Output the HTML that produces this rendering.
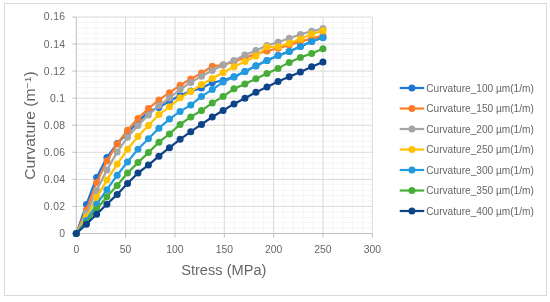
<!DOCTYPE html><html><head><meta charset="utf-8"><style>
html,body{margin:0;padding:0;background:#fff;width:550px;height:302px;overflow:hidden}
svg{display:block;filter:blur(0.3px)}
text{font-family:"Liberation Sans",Arial,sans-serif;fill:#666666}
</style></head><body>
<svg width="550" height="302" viewBox="0 0 550 302">
<rect x="0" y="0" width="550" height="302" fill="#fff"/>
<rect x="4.5" y="3.5" width="542" height="292" fill="none" stroke="#d9d9d9" stroke-width="1"/>
<path d="M86.17 17.00V233.50M96.03 17.00V233.50M105.90 17.00V233.50M115.77 17.00V233.50M135.50 17.00V233.50M145.37 17.00V233.50M155.23 17.00V233.50M165.10 17.00V233.50M184.83 17.00V233.50M194.70 17.00V233.50M204.57 17.00V233.50M214.43 17.00V233.50M234.17 17.00V233.50M244.03 17.00V233.50M253.90 17.00V233.50M263.77 17.00V233.50M283.50 17.00V233.50M293.37 17.00V233.50M303.23 17.00V233.50M313.10 17.00V233.50M332.83 17.00V233.50M342.70 17.00V233.50M352.57 17.00V233.50M362.43 17.00V233.50M76.30 228.09H372.30M76.30 222.68H372.30M76.30 217.26H372.30M76.30 211.85H372.30M76.30 201.03H372.30M76.30 195.61H372.30M76.30 190.20H372.30M76.30 184.79H372.30M76.30 173.96H372.30M76.30 168.55H372.30M76.30 163.14H372.30M76.30 157.72H372.30M76.30 146.90H372.30M76.30 141.49H372.30M76.30 136.07H372.30M76.30 130.66H372.30M76.30 119.84H372.30M76.30 114.43H372.30M76.30 109.01H372.30M76.30 103.60H372.30M76.30 92.78H372.30M76.30 87.36H372.30M76.30 81.95H372.30M76.30 76.54H372.30M76.30 65.71H372.30M76.30 60.30H372.30M76.30 54.89H372.30M76.30 49.47H372.30M76.30 38.65H372.30M76.30 33.24H372.30M76.30 27.82H372.30M76.30 22.41H372.30" stroke="#f4f4f4" stroke-width="1" fill="none"/>
<path d="M125.63 17.00V233.50M174.97 17.00V233.50M224.30 17.00V233.50M273.63 17.00V233.50M322.97 17.00V233.50M372.30 17.00V233.50M76.30 206.44H372.30M76.30 179.38H372.30M76.30 152.31H372.30M76.30 125.25H372.30M76.30 98.19H372.30M76.30 71.12H372.30M76.30 44.06H372.30M76.30 17.00H372.30" stroke="#d9d9d9" stroke-width="1" fill="none"/>
<path d="M76.30 17.00V233.50M76.30 233.50H372.30M76.30 233.50V237.50M125.63 233.50V237.50M174.97 233.50V237.50M224.30 233.50V237.50M273.63 233.50V237.50M322.97 233.50V237.50M372.30 233.50V237.50M72.30 233.50H76.30M72.30 206.44H76.30M72.30 179.38H76.30M72.30 152.31H76.30M72.30 125.25H76.30M72.30 98.19H76.30M72.30 71.12H76.30M72.30 44.06H76.30M72.30 17.00H76.30" stroke="#bfbfbf" stroke-width="1" fill="none"/>
<text x="76.30" y="252.6" font-size="10.4" text-anchor="middle">0</text>
<text x="125.63" y="252.6" font-size="10.4" text-anchor="middle">50</text>
<text x="174.97" y="252.6" font-size="10.4" text-anchor="middle">100</text>
<text x="224.30" y="252.6" font-size="10.4" text-anchor="middle">150</text>
<text x="273.63" y="252.6" font-size="10.4" text-anchor="middle">200</text>
<text x="322.97" y="252.6" font-size="10.4" text-anchor="middle">250</text>
<text x="372.30" y="252.6" font-size="10.4" text-anchor="middle">300</text>
<text x="65.4" y="236.95" font-size="10.4" letter-spacing="0.35" text-anchor="end">0</text>
<text x="65.4" y="209.89" font-size="10.4" letter-spacing="0.35" text-anchor="end">0.02</text>
<text x="65.4" y="182.82" font-size="10.4" letter-spacing="0.35" text-anchor="end">0.04</text>
<text x="65.4" y="155.76" font-size="10.4" letter-spacing="0.35" text-anchor="end">0.06</text>
<text x="65.4" y="128.70" font-size="10.4" letter-spacing="0.35" text-anchor="end">0.08</text>
<text x="65.4" y="101.64" font-size="10.4" letter-spacing="0.35" text-anchor="end">0.1</text>
<text x="65.4" y="74.58" font-size="10.4" letter-spacing="0.35" text-anchor="end">0.12</text>
<text x="65.4" y="47.51" font-size="10.4" letter-spacing="0.35" text-anchor="end">0.14</text>
<text x="65.4" y="20.45" font-size="10.4" letter-spacing="0.35" text-anchor="end">0.16</text>
<text transform="translate(223.8 275.2) scale(0.975 1)" font-size="15" text-anchor="middle">Stress (MPa)</text>
<text transform="translate(35.2 125.5) rotate(-90) scale(1.065 1)" font-size="14.7" text-anchor="middle">Curvature (m<tspan font-size="9.8" dy="-4.6">−1</tspan><tspan dy="4.6">)</tspan></text>
<polyline points="76.30,233.50 86.44,204.50 96.63,177.50 106.88,157.50 117.18,143.60 127.53,133.10 137.94,122.10 148.40,111.60 158.91,107.60 169.47,101.10 180.09,95.60 190.76,91.10 201.49,88.10 212.27,82.80 223.10,80.40 233.98,76.90 244.92,71.50 255.91,66.00 266.95,60.50 278.05,55.60 289.20,51.50 300.40,46.50 311.66,41.50 322.97,37.40" fill="none" stroke="#1D74D4" stroke-width="2.2" stroke-linejoin="round"/>
<g fill="#1D74D4"><circle cx="76.30" cy="233.50" r="3.5"/><circle cx="86.44" cy="204.50" r="3.5"/><circle cx="96.63" cy="177.50" r="3.5"/><circle cx="106.88" cy="157.50" r="3.5"/><circle cx="117.18" cy="143.60" r="3.5"/><circle cx="127.53" cy="133.10" r="3.5"/><circle cx="137.94" cy="122.10" r="3.5"/><circle cx="148.40" cy="111.60" r="3.5"/><circle cx="158.91" cy="107.60" r="3.5"/><circle cx="169.47" cy="101.10" r="3.5"/><circle cx="180.09" cy="95.60" r="3.5"/><circle cx="190.76" cy="91.10" r="3.5"/><circle cx="201.49" cy="88.10" r="3.5"/><circle cx="212.27" cy="82.80" r="3.5"/><circle cx="223.10" cy="80.40" r="3.5"/><circle cx="233.98" cy="76.90" r="3.5"/><circle cx="244.92" cy="71.50" r="3.5"/><circle cx="255.91" cy="66.00" r="3.5"/><circle cx="266.95" cy="60.50" r="3.5"/><circle cx="278.05" cy="55.60" r="3.5"/><circle cx="289.20" cy="51.50" r="3.5"/><circle cx="300.40" cy="46.50" r="3.5"/><circle cx="311.66" cy="41.50" r="3.5"/><circle cx="322.97" cy="37.40" r="3.5"/></g>
<polyline points="76.30,233.50 86.44,209.80 96.63,182.40 106.88,161.00 117.18,143.90 127.53,130.20 137.94,118.60 148.40,108.50 158.91,99.90 169.47,92.70 180.09,85.30 190.76,79.00 201.49,73.10 212.27,66.30 223.10,65.00 233.98,61.60 244.92,57.60 255.91,54.10 266.95,51.00 278.05,48.20 289.20,45.10 300.40,41.60 311.66,38.60 322.97,35.60" fill="none" stroke="#FD7C2A" stroke-width="2.2" stroke-linejoin="round"/>
<g fill="#FD7C2A"><circle cx="76.30" cy="233.50" r="3.5"/><circle cx="86.44" cy="209.80" r="3.5"/><circle cx="96.63" cy="182.40" r="3.5"/><circle cx="106.88" cy="161.00" r="3.5"/><circle cx="117.18" cy="143.90" r="3.5"/><circle cx="127.53" cy="130.20" r="3.5"/><circle cx="137.94" cy="118.60" r="3.5"/><circle cx="148.40" cy="108.50" r="3.5"/><circle cx="158.91" cy="99.90" r="3.5"/><circle cx="169.47" cy="92.70" r="3.5"/><circle cx="180.09" cy="85.30" r="3.5"/><circle cx="190.76" cy="79.00" r="3.5"/><circle cx="201.49" cy="73.10" r="3.5"/><circle cx="212.27" cy="66.30" r="3.5"/><circle cx="223.10" cy="65.00" r="3.5"/><circle cx="233.98" cy="61.60" r="3.5"/><circle cx="244.92" cy="57.60" r="3.5"/><circle cx="255.91" cy="54.10" r="3.5"/><circle cx="266.95" cy="51.00" r="3.5"/><circle cx="278.05" cy="48.20" r="3.5"/><circle cx="289.20" cy="45.10" r="3.5"/><circle cx="300.40" cy="41.60" r="3.5"/><circle cx="311.66" cy="38.60" r="3.5"/><circle cx="322.97" cy="35.60" r="3.5"/></g>
<polyline points="76.30,233.50 86.44,213.20 96.63,190.50 106.88,170.10 117.18,152.10 127.53,137.20 137.94,125.50 148.40,114.90 158.91,105.60 169.47,98.00 180.09,89.50 190.76,82.40 201.49,76.20 212.27,70.60 223.10,65.00 233.98,60.40 244.92,55.10 255.91,50.40 266.95,45.60 278.05,42.30 289.20,38.20 300.40,34.40 311.66,31.20 322.97,28.50" fill="none" stroke="#A5A5A5" stroke-width="2.2" stroke-linejoin="round"/>
<g fill="#A5A5A5"><circle cx="76.30" cy="233.50" r="3.5"/><circle cx="86.44" cy="213.20" r="3.5"/><circle cx="96.63" cy="190.50" r="3.5"/><circle cx="106.88" cy="170.10" r="3.5"/><circle cx="117.18" cy="152.10" r="3.5"/><circle cx="127.53" cy="137.20" r="3.5"/><circle cx="137.94" cy="125.50" r="3.5"/><circle cx="148.40" cy="114.90" r="3.5"/><circle cx="158.91" cy="105.60" r="3.5"/><circle cx="169.47" cy="98.00" r="3.5"/><circle cx="180.09" cy="89.50" r="3.5"/><circle cx="190.76" cy="82.40" r="3.5"/><circle cx="201.49" cy="76.20" r="3.5"/><circle cx="212.27" cy="70.60" r="3.5"/><circle cx="223.10" cy="65.00" r="3.5"/><circle cx="233.98" cy="60.40" r="3.5"/><circle cx="244.92" cy="55.10" r="3.5"/><circle cx="255.91" cy="50.40" r="3.5"/><circle cx="266.95" cy="45.60" r="3.5"/><circle cx="278.05" cy="42.30" r="3.5"/><circle cx="289.20" cy="38.20" r="3.5"/><circle cx="300.40" cy="34.40" r="3.5"/><circle cx="311.66" cy="31.20" r="3.5"/><circle cx="322.97" cy="28.50" r="3.5"/></g>
<polyline points="76.30,233.50 86.44,216.70 96.63,197.60 106.88,180.10 117.18,164.10 127.53,149.30 137.94,136.40 148.40,125.40 158.91,114.60 169.47,106.80 180.09,97.80 190.76,91.50 201.49,84.60 212.27,78.50 223.10,72.50 233.98,66.70 244.92,61.60 255.91,56.10 266.95,47.00 278.05,46.80 289.20,43.20 300.40,38.90 311.66,34.10 322.97,30.70" fill="none" stroke="#FFC200" stroke-width="2.2" stroke-linejoin="round"/>
<g fill="#FFC200"><circle cx="76.30" cy="233.50" r="3.5"/><circle cx="86.44" cy="216.70" r="3.5"/><circle cx="96.63" cy="197.60" r="3.5"/><circle cx="106.88" cy="180.10" r="3.5"/><circle cx="117.18" cy="164.10" r="3.5"/><circle cx="127.53" cy="149.30" r="3.5"/><circle cx="137.94" cy="136.40" r="3.5"/><circle cx="148.40" cy="125.40" r="3.5"/><circle cx="158.91" cy="114.60" r="3.5"/><circle cx="169.47" cy="106.80" r="3.5"/><circle cx="180.09" cy="97.80" r="3.5"/><circle cx="190.76" cy="91.50" r="3.5"/><circle cx="201.49" cy="84.60" r="3.5"/><circle cx="212.27" cy="78.50" r="3.5"/><circle cx="223.10" cy="72.50" r="3.5"/><circle cx="233.98" cy="66.70" r="3.5"/><circle cx="244.92" cy="61.60" r="3.5"/><circle cx="255.91" cy="56.10" r="3.5"/><circle cx="266.95" cy="47.00" r="3.5"/><circle cx="278.05" cy="46.80" r="3.5"/><circle cx="289.20" cy="43.20" r="3.5"/><circle cx="300.40" cy="38.90" r="3.5"/><circle cx="311.66" cy="34.10" r="3.5"/><circle cx="322.97" cy="30.70" r="3.5"/></g>
<polyline points="76.30,233.50 86.44,220.40 96.63,204.30 106.88,189.70 117.18,175.20 127.53,161.90 137.94,149.20 148.40,138.80 158.91,128.20 169.47,119.10 180.09,111.40 190.76,105.10 201.49,96.40 212.27,89.60 223.10,82.10 233.98,76.80 244.92,71.40 255.91,65.80 266.95,60.50 278.05,55.60 289.20,51.50 300.40,46.50 311.66,41.50 322.97,37.40" fill="none" stroke="#219ADE" stroke-width="2.2" stroke-linejoin="round"/>
<g fill="#219ADE"><circle cx="76.30" cy="233.50" r="3.5"/><circle cx="86.44" cy="220.40" r="3.5"/><circle cx="96.63" cy="204.30" r="3.5"/><circle cx="106.88" cy="189.70" r="3.5"/><circle cx="117.18" cy="175.20" r="3.5"/><circle cx="127.53" cy="161.90" r="3.5"/><circle cx="137.94" cy="149.20" r="3.5"/><circle cx="148.40" cy="138.80" r="3.5"/><circle cx="158.91" cy="128.20" r="3.5"/><circle cx="169.47" cy="119.10" r="3.5"/><circle cx="180.09" cy="111.40" r="3.5"/><circle cx="190.76" cy="105.10" r="3.5"/><circle cx="201.49" cy="96.40" r="3.5"/><circle cx="212.27" cy="89.60" r="3.5"/><circle cx="223.10" cy="82.10" r="3.5"/><circle cx="233.98" cy="76.80" r="3.5"/><circle cx="244.92" cy="71.40" r="3.5"/><circle cx="255.91" cy="65.80" r="3.5"/><circle cx="266.95" cy="60.50" r="3.5"/><circle cx="278.05" cy="55.60" r="3.5"/><circle cx="289.20" cy="51.50" r="3.5"/><circle cx="300.40" cy="46.50" r="3.5"/><circle cx="311.66" cy="41.50" r="3.5"/><circle cx="322.97" cy="37.40" r="3.5"/></g>
<polyline points="76.30,233.50 86.44,223.10 96.63,209.20 106.88,196.80 117.18,185.50 127.53,173.00 137.94,162.60 148.40,152.60 158.91,142.20 169.47,133.90 180.09,124.40 190.76,117.00 201.49,110.50 212.27,103.10 223.10,96.50 233.98,88.80 244.92,84.00 255.91,78.80 266.95,73.50 278.05,68.40 289.20,62.40 300.40,57.40 311.66,53.50 322.97,48.70" fill="none" stroke="#47AD38" stroke-width="2.2" stroke-linejoin="round"/>
<g fill="#47AD38"><circle cx="76.30" cy="233.50" r="3.5"/><circle cx="86.44" cy="223.10" r="3.5"/><circle cx="96.63" cy="209.20" r="3.5"/><circle cx="106.88" cy="196.80" r="3.5"/><circle cx="117.18" cy="185.50" r="3.5"/><circle cx="127.53" cy="173.00" r="3.5"/><circle cx="137.94" cy="162.60" r="3.5"/><circle cx="148.40" cy="152.60" r="3.5"/><circle cx="158.91" cy="142.20" r="3.5"/><circle cx="169.47" cy="133.90" r="3.5"/><circle cx="180.09" cy="124.40" r="3.5"/><circle cx="190.76" cy="117.00" r="3.5"/><circle cx="201.49" cy="110.50" r="3.5"/><circle cx="212.27" cy="103.10" r="3.5"/><circle cx="223.10" cy="96.50" r="3.5"/><circle cx="233.98" cy="88.80" r="3.5"/><circle cx="244.92" cy="84.00" r="3.5"/><circle cx="255.91" cy="78.80" r="3.5"/><circle cx="266.95" cy="73.50" r="3.5"/><circle cx="278.05" cy="68.40" r="3.5"/><circle cx="289.20" cy="62.40" r="3.5"/><circle cx="300.40" cy="57.40" r="3.5"/><circle cx="311.66" cy="53.50" r="3.5"/><circle cx="322.97" cy="48.70" r="3.5"/></g>
<polyline points="76.30,233.50 86.44,224.20 96.63,214.20 106.88,204.20 117.18,194.40 127.53,183.60 137.94,173.00 148.40,165.10 158.91,156.20 169.47,147.70 180.09,139.30 190.76,131.70 201.49,124.40 212.27,117.00 223.10,110.50 233.98,103.90 244.92,98.30 255.91,92.30 266.95,87.00 278.05,81.60 289.20,76.70 300.40,72.00 311.66,66.80 322.97,62.00" fill="none" stroke="#0E4387" stroke-width="2.2" stroke-linejoin="round"/>
<g fill="#0E4387"><circle cx="76.30" cy="233.50" r="3.5"/><circle cx="86.44" cy="224.20" r="3.5"/><circle cx="96.63" cy="214.20" r="3.5"/><circle cx="106.88" cy="204.20" r="3.5"/><circle cx="117.18" cy="194.40" r="3.5"/><circle cx="127.53" cy="183.60" r="3.5"/><circle cx="137.94" cy="173.00" r="3.5"/><circle cx="148.40" cy="165.10" r="3.5"/><circle cx="158.91" cy="156.20" r="3.5"/><circle cx="169.47" cy="147.70" r="3.5"/><circle cx="180.09" cy="139.30" r="3.5"/><circle cx="190.76" cy="131.70" r="3.5"/><circle cx="201.49" cy="124.40" r="3.5"/><circle cx="212.27" cy="117.00" r="3.5"/><circle cx="223.10" cy="110.50" r="3.5"/><circle cx="233.98" cy="103.90" r="3.5"/><circle cx="244.92" cy="98.30" r="3.5"/><circle cx="255.91" cy="92.30" r="3.5"/><circle cx="266.95" cy="87.00" r="3.5"/><circle cx="278.05" cy="81.60" r="3.5"/><circle cx="289.20" cy="76.70" r="3.5"/><circle cx="300.40" cy="72.00" r="3.5"/><circle cx="311.66" cy="66.80" r="3.5"/><circle cx="322.97" cy="62.00" r="3.5"/></g>
<line x1="399.7" y1="88.00" x2="424.2" y2="88.00" stroke="#1D74D4" stroke-width="2.2"/>
<circle cx="411.9" cy="88.00" r="3.5" fill="#1D74D4"/>
<text x="426.2" y="91.60" font-size="10.15">Curvature_100 µm(1/m)</text>
<line x1="399.7" y1="108.50" x2="424.2" y2="108.50" stroke="#FD7C2A" stroke-width="2.2"/>
<circle cx="411.9" cy="108.50" r="3.5" fill="#FD7C2A"/>
<text x="426.2" y="112.10" font-size="10.15">Curvature_150 µm(1/m)</text>
<line x1="399.7" y1="129.00" x2="424.2" y2="129.00" stroke="#A5A5A5" stroke-width="2.2"/>
<circle cx="411.9" cy="129.00" r="3.5" fill="#A5A5A5"/>
<text x="426.2" y="132.60" font-size="10.15">Curvature_200 µm(1/m)</text>
<line x1="399.7" y1="149.50" x2="424.2" y2="149.50" stroke="#FFC200" stroke-width="2.2"/>
<circle cx="411.9" cy="149.50" r="3.5" fill="#FFC200"/>
<text x="426.2" y="153.10" font-size="10.15">Curvature_250 µm(1/m)</text>
<line x1="399.7" y1="170.00" x2="424.2" y2="170.00" stroke="#219ADE" stroke-width="2.2"/>
<circle cx="411.9" cy="170.00" r="3.5" fill="#219ADE"/>
<text x="426.2" y="173.60" font-size="10.15">Curvature_300 µm(1/m)</text>
<line x1="399.7" y1="190.50" x2="424.2" y2="190.50" stroke="#47AD38" stroke-width="2.2"/>
<circle cx="411.9" cy="190.50" r="3.5" fill="#47AD38"/>
<text x="426.2" y="194.10" font-size="10.15">Curvature_350 µm(1/m)</text>
<line x1="399.7" y1="211.00" x2="424.2" y2="211.00" stroke="#0E4387" stroke-width="2.2"/>
<circle cx="411.9" cy="211.00" r="3.5" fill="#0E4387"/>
<text x="426.2" y="214.60" font-size="10.15">Curvature_400 µm(1/m)</text>
</svg></body></html>
